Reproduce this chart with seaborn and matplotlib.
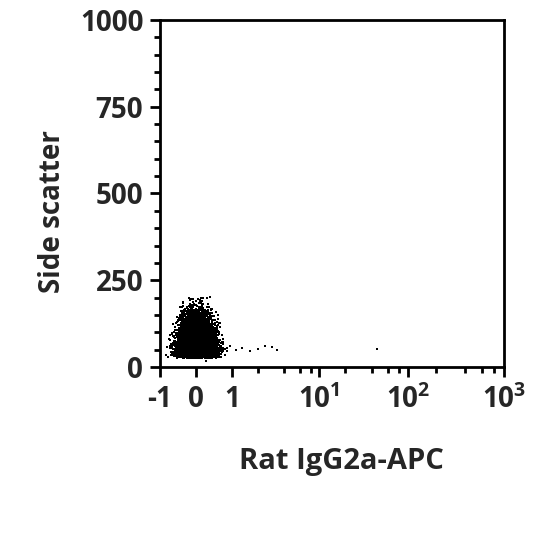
import numpy as np
import pandas as pd
import matplotlib
matplotlib.use("Agg")
import matplotlib.pyplot as plt
from matplotlib.ticker import FixedLocator, FixedFormatter
import seaborn as sns

# ---- data ----
# density of events (counts per cell) of the main population
x_edges = [-0.8, -0.6, -0.4, -0.2, 0.0, 0.2, 0.4, 0.6, 0.8]
y_edges = [27, 40, 60, 80, 100, 120, 140, 160, 180, 205]
cell_counts = [
    [3, 40, 300, 450, 450, 320, 60, 4],
    [6, 80, 500, 650, 650, 520, 110, 8],
    [3, 50, 400, 600, 600, 420, 70, 5],
    [1, 25, 280, 480, 480, 300, 40, 3],
    [0, 12, 160, 350, 350, 180, 20, 2],
    [0, 6, 70, 180, 180, 80, 10, 1],
    [0, 3, 25, 60, 60, 30, 5, 0],
    [0, 1, 10, 20, 20, 10, 2, 0],
    [0, 0, 4, 7, 7, 4, 1, 0],
]
# scattered single events
outlier_x = [0.85, 0.95, 1.1, 1.3, 1.6, 2.0, 2.4, 2.9, 3.3, 45.0]
outlier_y = [45, 60, 48, 55, 45, 52, 60, 58, 50, 52]

x_ticks = [-1, 0, 1, 10, 100, 1000]
x_ticklabels = ["-1", "0", "1", r"$10^{1}$", r"$10^{2}$", r"$10^{3}$"]
x_minor = [2, 4, 6, 8, 20, 40, 60, 80, 200, 400, 600, 800]
y_ticks = [0, 250, 500, 750, 1000]
y_minor = list(range(0, 1001, 50))
x_label = "Rat IgG2a-APC"
y_label = "Side scatter"

# ---- build events ----
rng = np.random.default_rng(3)
xs, ys = [], []
for i in range(len(y_edges) - 1):
    for j in range(len(x_edges) - 1):
        n = cell_counts[i][j]
        if n:
            xs.append(rng.uniform(x_edges[j], x_edges[j + 1], n)
                      + rng.normal(0, 0.07, n))
            yy = rng.uniform(y_edges[i], y_edges[i + 1], n)
            if i > 0:
                yy = yy + rng.normal(0, 6, n)
            ys.append(yy)
xs.append(np.array(outlier_x))
ys.append(np.array(outlier_y))
df = pd.DataFrame({"x": np.concatenate(xs), "y": np.concatenate(ys)})

# ---- style ----
sns.set_theme(style="ticks")
plt.rcParams["font.family"] = ["Open Sans", "DejaVu Sans"]
plt.rcParams["font.weight"] = "bold"
plt.rcParams["mathtext.fontset"] = "custom"
plt.rcParams["mathtext.rm"] = "Open Sans:bold"
plt.rcParams["mathtext.default"] = "rm"

# biexponential-like axis: linear in [-1, 1], log-like above 1
A, B, C = 2.445, -0.05, 0.025


def fwd(x):
    x = np.asarray(x, dtype=float)
    L = np.log10(np.maximum(x, 1))
    return np.where(x <= 1, x, 1 + A * L + B * L ** 2 + C * L ** 3)


_grid = np.linspace(0, 4, 4001)
_gridv = 1 + A * _grid + B * _grid ** 2 + C * _grid ** 3


def inv(y):
    y = np.asarray(y, dtype=float)
    L = np.interp(y, _gridv, _grid)
    return np.where(y <= 1, y, 10 ** L)


fig = plt.figure(figsize=(5.4, 5.4), dpi=100)
ax = fig.add_axes([160 / 540, 1 - 367 / 540, (504 - 160) / 540, (367 - 20) / 540])
ax.set_xscale("function", functions=(fwd, inv))

sns.scatterplot(data=df, x="x", y="y", ax=ax, s=1.0, marker="s",
                linewidth=0, color="black", legend=False)

ax.set_xlim(-1, 1000)
ax.set_ylim(0, 1000)

ax.xaxis.set_major_locator(FixedLocator(x_ticks))
ax.xaxis.set_major_formatter(FixedFormatter(x_ticklabels))
ax.xaxis.set_minor_locator(FixedLocator(x_minor))
ax.yaxis.set_major_locator(FixedLocator(y_ticks))
ax.yaxis.set_minor_locator(FixedLocator(y_minor))

for s in ax.spines.values():
    s.set_linewidth(2.0)
    s.set_color("black")
ax.tick_params(which="major", length=7, width=2.0, color="black",
               labelsize=20, pad=5)
ax.tick_params(which="minor", length=4.5, width=2.0, color="black")
ax.tick_params(axis="x", which="major", pad=6)
for lab in ax.get_xticklabels() + ax.get_yticklabels():
    lab.set_fontweight("bold")

ax.set_xlabel(x_label, fontsize=21, fontweight="bold")
ax.set_ylabel(y_label, fontsize=20, fontweight="bold")
ax.xaxis.set_label_coords((341 - 160) / 344, (367 - 462) / 347)
ax.yaxis.set_label_coords((53 - 160) / 344, (367 - 212) / 347)
ax.xaxis.label.set_va("center")
ax.yaxis.label.set_va("center")

fig.savefig("out.png", dpi=100)
